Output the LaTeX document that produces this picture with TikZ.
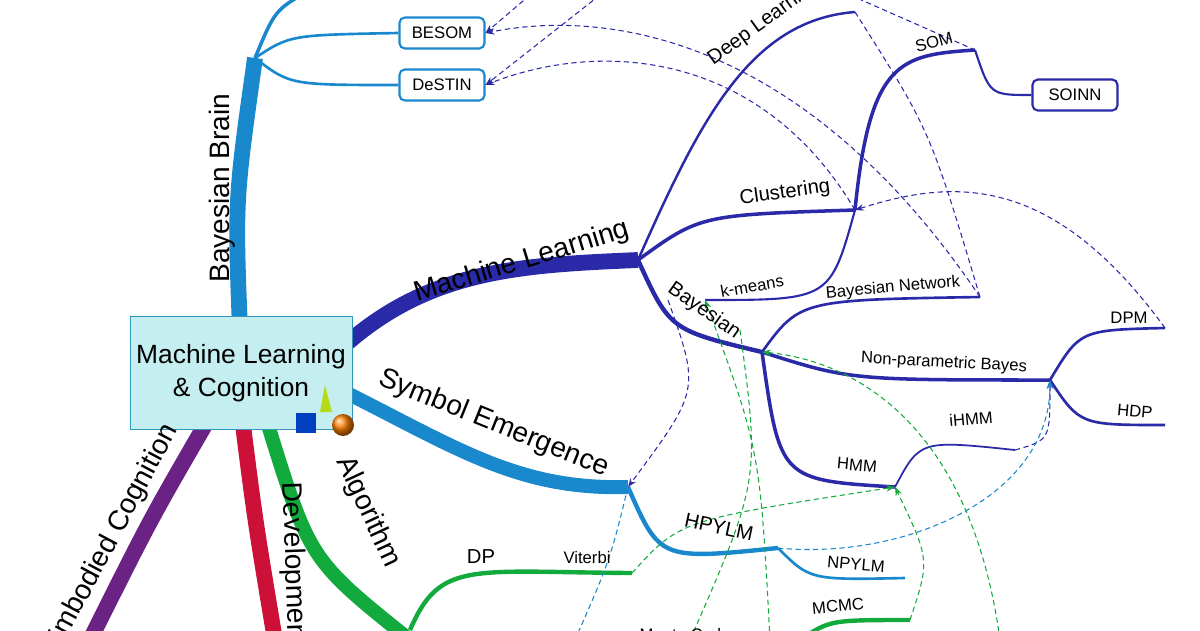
\documentclass[tikz,border=0pt]{standalone}
\usepackage{fontspec}
\setmainfont{Liberation Sans}
\usetikzlibrary{positioning,arrows.meta}
\definecolor{mlblue}{HTML}{2A2AA8}
\definecolor{sblue}{HTML}{1A88CC}
\definecolor{agreen}{HTML}{12AA3C}
\definecolor{dred}{HTML}{CC1038}
\definecolor{epurple}{HTML}{6A2385}
\definecolor{boxcyan}{HTML}{C4EEF0}
\begin{document}
\begin{tikzpicture}[x=0.02cm,y=-0.02cm,
  big/.style={font=\fontsize{16}{19}\selectfont},
  mid/.style={font=\fontsize{11.5}{14}\selectfont},
  sml/.style={font=\fontsize{9.5}{11}\selectfont},
  leaf/.style={draw=sblue,line width=1.2pt,rounded corners=3pt,fill=white,
    minimum width=1.7cm,minimum height=0.62cm,sml},
  link/.style={densely dashed,line width=0.6pt,-{Stealth[length=5pt]}}]
\useasboundingbox (0,0) rectangle (1200,630);
\begin{scope}
\clip (0,0) rectangle (1200,630);
% junctions
\coordinate (ml) at (638,260);
\coordinate (bb) at (255,58);
\coordinate (cl) at (855,210);
\coordinate (by) at (762,352);
\coordinate (np) at (1050,380);
\coordinate (hmm) at (895,487);
\coordinate (se) at (628,487);
\coordinate (hp) at (778,548);
\coordinate (dl) at (855,12);
\coordinate (som) at (975,50);
\coordinate (km) at (705,300);
\coordinate (bn) at (980,297);
\coordinate (dpm) at (1165,328);
\coordinate (hdp) at (1165,425);
\coordinate (ihmm) at (1015,450);
\coordinate (npy) at (905,578);
\coordinate (vit) at (632,573);
\coordinate (mc) at (910,620);
% main branches
\draw[epurple,line width=9pt] (205,425) .. controls (150,520) .. (90,640);
\draw[dred,line width=9pt] (243,425) .. controls (255,520) .. (275,640);
\draw[agreen,line width=8pt] (268,425) .. controls (310,560) .. (410,640);
\draw[sblue,line width=9pt] (240,330) .. controls (235,200) .. (bb);
\draw[sblue,line width=2pt] (bb) .. controls (275,10) .. (310,-10);
\draw[mlblue,line width=9pt] (345,345) .. controls (430,270) and (520,265) .. (ml);
\draw[sblue,line width=8pt] (345,392) .. controls (460,450) and (520,490) .. (se);
% leaves
\node[leaf] (besom) at (442,33) {BESOM};
\node[leaf] (destin) at (442,85) {DeSTIN};
\node[leaf,draw=mlblue] (soinn) at (1075,95) {SOINN};
\draw[sblue,line width=1.5pt] (bb) .. controls (290,35) .. (besom.west);
\draw[sblue,line width=1.5pt] (bb) .. controls (290,85) .. (destin.west);
% machine learning
\draw[mlblue,line width=1.4pt] (ml) .. controls (700,120) and (750,20) .. (dl);
\draw[mlblue,line width=2pt] (ml) .. controls (700,215) .. (cl);
\draw[mlblue,line width=2.5pt] (ml) .. controls (670,330) .. (by);
\draw[mlblue,line width=2pt] (cl) .. controls (870,60) and (900,55) .. (som);
\draw[mlblue,line width=1.2pt] (cl) .. controls (830,300) .. (km);
\draw[mlblue,line width=1.2pt] (som) .. controls (990,95) .. (soinn.west);
\draw[mlblue,line width=1.5pt] (by) .. controls (800,300) .. (bn);
\draw[mlblue,line width=2pt] (by) .. controls (850,380) .. (np);
\draw[mlblue,line width=2pt] (by) .. controls (780,480) .. (hmm);
\draw[mlblue,line width=1.5pt] (np) .. controls (1080,330) .. (dpm);
\draw[mlblue,line width=1.5pt] (np) .. controls (1080,425) .. (hdp);
\draw[mlblue,line width=1pt] (hmm) .. controls (920,440) .. (ihmm);
% symbol emergence and algorithm
\draw[sblue,line width=2.5pt] (se) .. controls (660,560) .. (hp);
\draw[sblue,line width=1.5pt] (hp) .. controls (810,580) .. (npy);
\draw[agreen,line width=2.5pt] (410,630) .. controls (440,560) and (470,572) .. (vit);
\draw[agreen,line width=2.5pt] (800,640) .. controls (830,620) .. (mc);
% dashed links
\draw[link,mlblue] (530,-5) -- (besom.east);
\draw[link,mlblue] (600,-5) -- (destin.east);
\draw[link,mlblue] (bn) .. controls (800,30) and (600,10) .. (besom.east);
\draw[link,mlblue] (cl) .. controls (760,50) and (600,40) .. (destin.east);
\draw[link,mlblue] (dpm) .. controls (1050,170) and (950,180) .. (cl);
\draw[densely dashed,mlblue,line width=0.6pt] (dl) .. controls (930,130) .. (bn);
\draw[densely dashed,mlblue,line width=0.6pt] (850,-5) -- (som);
\draw[link,mlblue] (668,300) .. controls (700,390) .. (se);
\draw[link,mlblue] (ihmm) .. controls (1050,440) .. (np);
\draw[link,sblue] (hp) .. controls (900,560) and (1050,500) .. (np);
\draw[densely dashed,sblue,line width=0.6pt] (se) .. controls (610,560) .. (575,640);
\draw[link,agreen] (vit) .. controls (680,520) .. (hmm);
\draw[link,agreen] (mc) .. controls (930,560) .. (hmm);
\draw[link,agreen] (770,640) .. controls (760,450) .. (km);
\draw[densely dashed,agreen,line width=0.6pt] (740,330) .. controls (760,480) .. (690,640);
\draw[link,agreen] (1000,640) .. controls (970,420) and (850,360) .. (by);
% central topic
\node[draw=cyan!50!teal,fill=boxcyan,minimum width=4.44cm,minimum height=2.26cm,
  inner sep=0pt,align=center,font=\fontsize{15}{19}\selectfont] (root) at (241,373)
  {Machine Learning\\\& Cognition};
\fill[blue!50!teal] (296,413) rectangle (316,433);
\fill[yellow!70!green] (325,385) -- (320,412) -- (332,412) -- cycle;
\shade[ball color=orange] (343,425) circle (11);
% labels
\node[big,rotate=90] (lbb) at (222,188) {Bayesian Brain};
\node[big,rotate=17] (lml) at (522,262) {Machine Learning};
\node[big,rotate=-22] (lse) at (494,424) {Symbol Emergence};
\node[big,rotate=-65] (lal) at (368,512) {Algorithm};
\node[big,rotate=-88] (ldv) at (293,565) {Development};
\node[big,rotate=62] (lec) at (112,538) {Embodied Cognition};
\node[mid,rotate=36] (ldl) at (764,22) {Deep Learning};
\node[mid,rotate=8] (lcl) at (785,193) {Clustering};
\node[mid,rotate=-35] (lby) at (704,311) {Bayesian};
\node[sml,rotate=15] (lsom) at (934,42) {SOM};
\node[sml,rotate=10] (lkm) at (752,286) {k-means};
\node[sml,rotate=5] (lbn) at (893,288) {Bayesian Network};
\node[sml,rotate=-3] (lnp) at (944,363) {Non-parametric Bayes};
\node[sml,rotate=-5] (lhmm) at (857,465) {HMM};
\node[sml,rotate=5] (lih) at (971,419) {iHMM};
\node[sml] (ldpm) at (1129,318) {DPM};
\node[sml,rotate=-5] (lhdp) at (1135,411) {HDP};
\node[mid,rotate=-12] (lhp) at (719,527) {HPYLM};
\node[sml,rotate=-5] (lnpy) at (856,564) {NPYLM};
\node[mid] (ldp) at (481,557) {DP};
\node[sml] (lvi) at (587,558) {Viterbi};
\node[sml,rotate=5] (lmc) at (838,606) {MCMC};
\node[sml] (lmo) at (685,635) {Monte Carlo};
\end{scope}
\end{tikzpicture}
\end{document}
